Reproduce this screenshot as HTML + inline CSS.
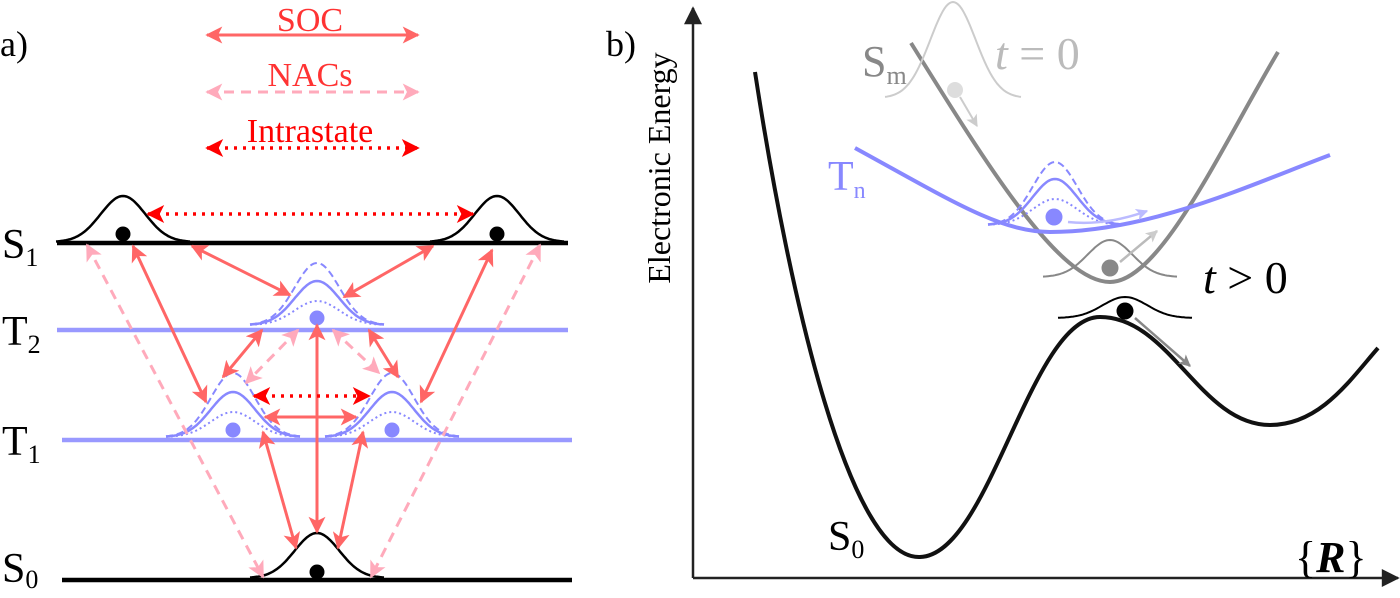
<!DOCTYPE html>
<html><head><meta charset="utf-8"><style>
html,body{margin:0;padding:0;background:#fff;}
svg, svg text{font-family:"Liberation Serif","DejaVu Serif",serif;}
</style></head><body>
<svg id="s" width="1400" height="593" viewBox="0 0 1400 593" xmlns="http://www.w3.org/2000/svg">
<defs>
<marker id="mr" viewBox="0 0 10 10" refX="9" refY="5" markerWidth="20" markerHeight="17" markerUnits="userSpaceOnUse" orient="auto-start-reverse"><path d="M0,0 L10,5 L0,10 L2.5,5z" fill="#f66"/></marker>
<marker id="mp" viewBox="0 0 10 10" refX="9" refY="5" markerWidth="20" markerHeight="17" markerUnits="userSpaceOnUse" orient="auto-start-reverse"><path d="M0,0 L10,5 L0,10 L2.5,5z" fill="#fab"/></marker>
<marker id="md" viewBox="0 0 10 10" refX="9" refY="5" markerWidth="21" markerHeight="18" markerUnits="userSpaceOnUse" orient="auto-start-reverse"><path d="M0,0 L10,5 L0,10 L2.5,5z" fill="#f00"/></marker>
<marker id="mg" viewBox="0 0 10 10" refX="9" refY="5" markerWidth="13" markerHeight="12" markerUnits="userSpaceOnUse" orient="auto"><path d="M0,0 L10,5 L0,10 L2.5,5z" fill="#888"/></marker>
<marker id="ml" viewBox="0 0 10 10" refX="9" refY="5" markerWidth="13" markerHeight="12" markerUnits="userSpaceOnUse" orient="auto"><path d="M0,0 L10,5 L0,10 L2.5,5z" fill="#ccc"/></marker>
<marker id="mb" viewBox="0 0 10 10" refX="9" refY="5" markerWidth="13" markerHeight="12" markerUnits="userSpaceOnUse" orient="auto"><path d="M0,0 L10,5 L0,10 L2.5,5z" fill="#bbf"/></marker>
<marker id="mk" viewBox="0 0 10 10" refX="9" refY="5" markerWidth="20" markerHeight="18" markerUnits="userSpaceOnUse" orient="auto"><path d="M0,0 L10,5 L0,10z" fill="#222"/></marker>
</defs>
<g id="g"></g>
<text x="0" y="56" font-size="36">a)</text>
<text x="606" y="56" font-size="36">b)</text>
<text x="310" y="31" font-size="34" fill="#f33" text-anchor="middle">SOC</text>
<text x="310" y="86" font-size="34" fill="#f33" text-anchor="middle">NACs</text>
<text x="310" y="142" font-size="34" fill="#f00" text-anchor="middle">Intrastate</text>
<text x="2" y="258" font-size="42">S<tspan font-size="26" dy="8">1</tspan></text>
<text x="2" y="345" font-size="42">T<tspan font-size="26" dy="8">2</tspan></text>
<text x="2" y="455" font-size="42">T<tspan font-size="26" dy="8">1</tspan></text>
<text x="2" y="582" font-size="42">S<tspan font-size="26" dy="6">0</tspan></text>
<text transform="translate(670,168) rotate(-90)" font-size="32" text-anchor="middle">Electronic Energy</text>
<text x="1295" y="572" font-size="44">{<tspan font-weight="bold" font-style="italic">R</tspan>}</text>
<text x="862" y="76" font-size="44" fill="#888">S<tspan font-size="26" dy="8">m</tspan></text>
<text x="995" y="69" font-size="46" fill="#bbb"><tspan font-style="italic">t</tspan> = 0</text>
<text x="828" y="190" font-size="42" fill="#88f">T<tspan font-size="24" dy="8">n</tspan></text>
<text x="1203" y="293" font-size="46"><tspan font-style="italic">t</tspan> &gt; 0</text>
<text x="828" y="550" font-size="42">S<tspan font-size="26" dy="8">0</tspan></text>
</svg>
<script>
var g=document.getElementById('g'),NS='http://www.w3.org/2000/svg';
function el(t,a){var e=document.createElementNS(NS,t);for(var k in a)e.setAttribute(k,a[k]);g.appendChild(e);return e;}
function ln(x1,y1,x2,y2,c,w,extra){var a={x1:x1,y1:y1,x2:x2,y2:y2,stroke:c,'stroke-width':w};for(var k in extra)a[k]=extra[k];return el('line',a);}
function gauss(cx,base,peak,hw,c,w,dash){var s=hw/3,d='';for(var i=0;i<=80;i++){var x=cx-hw+2*hw*i/80;var y=base-(base-peak)*Math.exp(-Math.pow(x-cx,2)/(2*s*s));d+=(i?'L':'M')+x.toFixed(1)+','+y.toFixed(1);}var a={d:d,fill:'none',stroke:c,'stroke-width':w};if(dash)a['stroke-dasharray']=dash;el('path',a);}
function dot(x,y,r,c){el('circle',{cx:x,cy:y,r:r,fill:c});}
var RED='#f66';
ln(207,35,418,35,RED,3,{'marker-start':'url(#mr)','marker-end':'url(#mr)'});
ln(207,92,418,92,'#fab',3,{'stroke-dasharray':'10,7','marker-start':'url(#mp)','marker-end':'url(#mp)'});
ln(207,148,418,148,'#f00',3.5,{'stroke-dasharray':'3,6','marker-start':'url(#md)','marker-end':'url(#md)'});
ln(57,243,568,243,'#000',4.5);
ln(57,330,568,330,'#99f',4.5);
ln(62,440,572,440,'#99f',4.5);
ln(62,580,572,580,'#000',4.5);
gauss(123,242,196,67,'#000',2.5);gauss(497,242,196,67,'#000',2.5);dot(123,234,7.5,'#000');dot(497,234,7.5,'#000');
[[317,325,263,281,301,67],[233,437,373,392,412,67],[392,437,373,392,412,67]].forEach(function(q){
gauss(q[0],q[1],q[2],q[5],'#88f',2,'7,4');gauss(q[0],q[1],q[3],q[5],'#88f',2.5);gauss(q[0],q[1],q[4],q[5],'#88f',2,'2,3');dot(q[0],q[1]-7,7.5,'#88f');});
gauss(317,578,533,67,'#000',2.5);dot(317,572,7.5,'#000');
var soc=[[133,246,206,402],[192,246,290,295],[433,246,344,297],[492,250,421,402],[262,330,223,377],[369,330,398,377],[265,417,356,417],[317,325,317,532],[263,432,296,548],[363,432,338,548]];
soc.forEach(function(a){ln(a[0],a[1],a[2],a[3],RED,3,{'marker-start':'url(#mr)','marker-end':'url(#mr)'});});
var nac=[[87,245,263,577],[540,245,371,577],[298,330,246,383],[333,330,379,373]];
nac.forEach(function(a){ln(a[0],a[1],a[2],a[3],'#fab',3,{'stroke-dasharray':'10,7','marker-start':'url(#mp)','marker-end':'url(#mp)'});});
ln(148,214,473,214,'#f00',3.5,{'stroke-dasharray':'3,6','marker-start':'url(#md)','marker-end':'url(#md)'});
ln(254,396,369,396,'#f00',3.5,{'stroke-dasharray':'3,6','marker-start':'url(#md)','marker-end':'url(#md)'});
ln(693,578,693,8,'#222',2.5,{'marker-end':'url(#mk)'});
ln(693,578,1398,578,'#222',2.5,{'marker-end':'url(#mk)'});
el('path',{d:'M755,72 C790,300 850,560 920,557 C990,555 1030,317 1100,317 C1170,317 1200,425 1270,425 C1320,425 1350,380 1378,348',fill:'none',stroke:'#111','stroke-width':4});
el('path',{d:'M911,43 C990,170 1060,282 1110,282 C1160,282 1220,150 1278,52',fill:'none',stroke:'#888','stroke-width':4});
el('path',{d:'M855,148 C950,200 1000,232 1050,232 C1150,232 1250,185 1330,155',fill:'none',stroke:'#88f','stroke-width':4});
gauss(953,98,2,68,'#ccc',2);dot(955,90,8,'#ddd');ln(960,97,977,126,'#ccc',2,{'marker-end':'url(#ml)'});
gauss(1055,225,162,67,'#88f',2,'7,4');gauss(1055,225,179,67,'#88f',2.5);gauss(1055,225,199,67,'#88f',2,'2,3');
dot(1054,217,8.5,'#88f');el('path',{d:'M1068,222 Q1105,226 1147,211',fill:'none',stroke:'#bbf','stroke-width':2.5,'marker-end':'url(#mb)'});
gauss(1110,277,240,67,'#888',2);dot(1110,268,8.5,'#888');ln(1120,262,1157,231,'#bbb',2.5,{'marker-end':'url(#ml)'});
gauss(1125,318,297,67,'#000',2);dot(1125,311,8.5,'#000');ln(1135,318,1190,366,'#888',2.5,{'marker-end':'url(#mg)'});
</script>
</body></html>
